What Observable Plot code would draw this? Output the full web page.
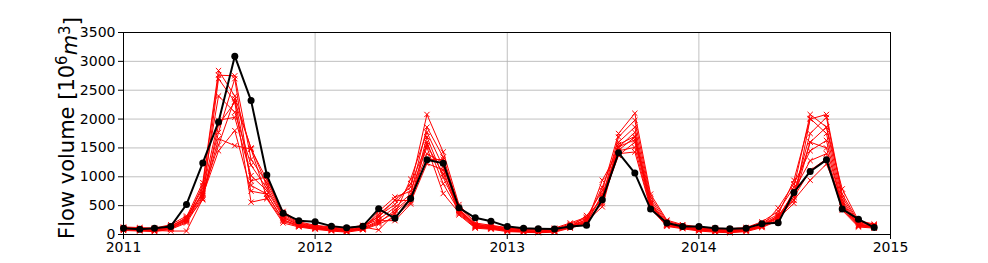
<!DOCTYPE html>
<html>
<head>
<meta charset="utf-8">
<script src="https://cdn.jsdelivr.net/npm/d3@7"></script>
<script src="https://cdn.jsdelivr.net/npm/@observablehq/plot@0.6"></script>
<style>
  html, body { margin: 0; padding: 0; background: white; }
  #chart { width: 988px; height: 263px; }
</style>
</head>
<body>
<div id="chart"></div>
<script>
// ---- Data (monthly, Jan 2011 .. Dec 2014) ----
const startYear = 2011;
const yearTicks = [2011, 2012, 2013, 2014, 2015];
const yTicks = [0, 500, 1000, 1500, 2000, 2500, 3000, 3500];

const observed = [
  110, 90, 110, 140, 520, 1240, 1950, 3090, 2320, 1030, 370, 240,
  220, 145, 115, 145, 445, 280, 625, 1295, 1236, 462, 289, 231,
  139, 110, 100, 95, 139, 160, 600, 1415, 1065, 440, 200, 140,
  140, 110, 100, 110, 185, 202, 728, 1092, 1294, 440, 266, 120
];

const member01 = [120,110,100,130,300,900,2840,2400,1480,950,400,220, 160,130,110,160,300,600,820,2080,1430,520,200,160, 120,100,90,110,200,300,760,1750,2100,700,250,170, 130,110,100,120,220,400,820,2080,1860,790,240,180];
const member02 = [100,90,80,110,260,850,2760,2750,1300,900,380,200, 150,120,100,150,260,470,700,1860,1340,480,180,150, 110,90,80,100,180,280,640,1690,1980,650,230,160, 120,100,90,110,200,350,940,2000,2080,700,220,170];
const member03 = [90,80,70,60,60,620,2700,2300,1500,850,350,190, 140,110,90,130,80,360,960,1770,1170,440,170,140, 100,80,70,90,160,250,530,1600,1860,600,210,150, 110,90,80,100,180,320,700,1750,2030,650,200,160];
const member04 = [110,100,100,150,280,800,2400,2120,1200,800,320,180, 130,100,80,120,350,590,590,1690,990,420,160,130, 90,70,60,80,150,230,480,1510,1770,560,190,140, 100,80,70,90,160,300,590,1600,1860,600,180,150];
const member05 = [80,70,60,100,220,750,1980,2030,1020,760,300,160, 120,90,70,110,240,240,530,1600,880,400,140,120, 80,60,50,70,140,210,700,1460,1690,530,170,130, 90,70,60,80,150,280,540,2010,1750,530,160,140];
const member06 = [130,120,110,170,320,700,1770,2700,850,700,260,150, 110,80,60,100,400,650,750,1510,710,380,130,110, 70,50,40,60,130,330,610,1370,1600,500,160,120, 80,60,50,70,140,460,880,1450,1630,480,150,130];
const member07 = [70,60,50,90,200,650,1660,1540,1480,640,230,140, 100,70,50,90,200,420,650,1400,1240,360,120,100, 60,50,40,50,120,200,940,1450,1510,470,150,110, 70,50,40,60,130,260,760,1280,1400,450,140,120];
const member08 = [100,90,80,120,250,600,1900,2290,560,620,200,130, 90,60,40,80,180,300,560,1230,1120,340,110,90, 50,40,30,40,110,190,580,1400,1430,450,140,100, 60,40,30,50,120,240,650,1110,1310,420,130,110];
const member09 = [110,100,90,140,270,720,1550,2350,930,1000,290,170, 120,90,70,100,320,520,880,1550,1050,450,150,120, 80,60,50,70,140,260,820,1560,1700,540,180,130, 90,70,60,80,150,330,600,940,1220,560,170,140];
const member10 = [90,80,70,110,240,680,1450,1800,750,700,250,150, 110,80,60,100,220,380,620,1300,1300,420,140,110, 70,50,40,60,130,220,660,1520,1640,520,170,120, 80,60,50,70,140,300,720,1600,1500,500,160,130];

const members = [member01, member02, member03, member04, member05, member06, member07, member08, member09, member10];

// ---- Build tables ----
const monthDate = i => new Date(Date.UTC(startYear, i, 1));
const obsData = observed.map((v, i) => ({date: monthDate(i), value: v}));
const ensData = members.flatMap((arr, m) => arr.map((v, i) => ({member: m, date: monthDate(i), value: v})));
const yearDates = yearTicks.map(y => new Date(Date.UTC(y, 0, 1)));

const grid = {stroke: "#b0b0b0", strokeOpacity: 1, strokeWidth: 0.8};

const chart = Plot.plot({
  width: 988,
  height: 263,
  marginLeft: 123,
  marginRight: 98,
  marginTop: 32,
  marginBottom: 29,
  style: {fontFamily: "DejaVu Sans", fontSize: "14px", background: "white", color: "black", overflow: "visible"},
  x: {type: "utc", domain: [yearDates[0], yearDates[yearDates.length - 1]]},
  y: {domain: [0, 3500]},
  marks: [
    Plot.gridX({ticks: yearDates, ...grid}),
    Plot.gridY({ticks: yTicks, ...grid}),
    Plot.line(ensData, {x: "date", y: "value", z: "member", stroke: "red", strokeWidth: 1}),
    Plot.dot(ensData, {x: "date", y: "value", symbol: "times", r: 2.5, stroke: "red", strokeWidth: 1}),
    Plot.line(obsData, {x: "date", y: "value", stroke: "black", strokeWidth: 2}),
    Plot.dot(obsData, {x: "date", y: "value", r: 3.5, fill: "black", stroke: "none"}),
    Plot.frame({stroke: "black", strokeWidth: 1}),
    Plot.axisX({ticks: yearDates, tickFormat: d => String(d.getUTCFullYear()), tickSize: 5, tickPadding: 3, label: null, fontSize: 14}),
    Plot.axisY({ticks: yTicks, tickFormat: d => String(d), tickSize: 5, tickPadding: 3, label: null, fontSize: 14})
  ]
});

document.getElementById("chart").appendChild(chart);

// Y-axis title with superscripts
const svg = d3.select(chart);
const t = svg.append("text")
  .attr("transform", "translate(74,128) rotate(-90)")
  .attr("text-anchor", "middle")
  .attr("font-family", "DejaVu Sans")
  .attr("font-size", 21)
  .attr("fill", "black");
t.append("tspan").text("Flow volume [10");
t.append("tspan").attr("dy", "-0.45em").attr("font-size", 15).text("6");
t.append("tspan").attr("dy", "0.45em").attr("font-style", "italic").text("m");
t.append("tspan").attr("dy", "-0.45em").attr("font-size", 15).text("3");
t.append("tspan").attr("dy", "0.45em").text("]");
</script>
</body>
</html>
